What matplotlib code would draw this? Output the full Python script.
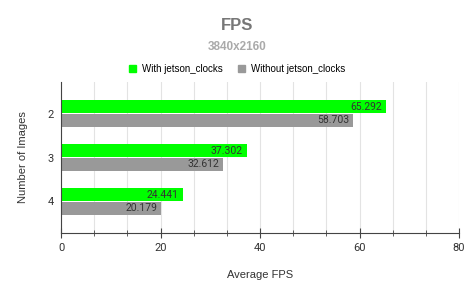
import numpy as np
import matplotlib
matplotlib.use("Agg")
import matplotlib.pyplot as plt
from matplotlib.patches import Patch
from matplotlib.ticker import MultipleLocator

# Data
categories   = ["2", "3", "4"]
with_clocks  = [65.292, 37.302, 24.441]
without_clk  = [58.703, 32.612, 20.179]
series_names = ["With jetson_clocks", "Without jetson_clocks"]

green = "#00ff00"
gray  = "#999999"

plt.rcParams['font.family'] = ['Liberation Sans', 'DejaVu Sans']

fig = plt.figure(figsize=(4.74, 2.93), dpi=100)
ax = fig.add_axes([0.1287, 0.2048, 0.8397, 0.5153])

y = np.arange(len(categories))
h = 0.29
b1 = ax.barh(y - 0.155, with_clocks, height=h, color=green)
b2 = ax.barh(y + 0.155, without_clk, height=h, color=gray)

for bars, vals in ((b1, with_clocks), (b2, without_clk)):
    for bar, v in zip(bars, vals):
        ax.text(v - 0.8, bar.get_y() + bar.get_height() / 2, "%.3f" % v,
                ha="right", va="center", fontsize=7.5, color="#333333",
                family="Roboto")

ax.set_xlim(0, 80)
ax.set_ylim(2.72, -0.72)
ax.set_yticks(y)
ax.set_yticklabels(categories)
ax.xaxis.set_major_locator(MultipleLocator(20))
ax.xaxis.set_minor_locator(MultipleLocator(20 / 3))
ax.grid(True, axis="x", which="both", color="#e3e3e3", lw=0.8)
ax.set_axisbelow(True)

for s in ("top", "right"):
    ax.spines[s].set_visible(False)
ax.spines["left"].set_color("#444444")
ax.spines["bottom"].set_color("#444444")
ax.tick_params(axis="y", length=0, pad=5, labelsize=8, labelcolor="#333333")
ax.tick_params(axis="x", which="major", direction="inout", length=7,
               color="#444444", labelsize=8, labelcolor="#333333", pad=4)
ax.tick_params(axis="x", which="minor", direction="inout", length=4,
               color="#444444")
for lbl in ax.get_xticklabels() + ax.get_yticklabels():
    lbl.set_family("Roboto")

ax.set_xlabel("Average FPS", fontsize=8, color="#333333", labelpad=12)
ax.set_ylabel("Number of Images", fontsize=8, color="#333333", labelpad=14)

fig.text(0.5, 0.914, "FPS", ha="center", va="center", fontsize=12,
         fontweight="bold", color="#777777")
fig.text(0.5, 0.84, "3840x2160", ha="center", va="center", fontsize=8.5,
         fontweight="bold", color="#aaaaaa")

handles = [Patch(color=green), Patch(color=gray)]
fig.legend(handles, series_names, loc="center", bbox_to_anchor=(0.5, 0.765),
           ncol=2, frameon=False, fontsize=7, handlelength=0.8,
           handleheight=0.8, columnspacing=1.5, handletextpad=0.6)

fig.savefig("out.png", dpi=100)
